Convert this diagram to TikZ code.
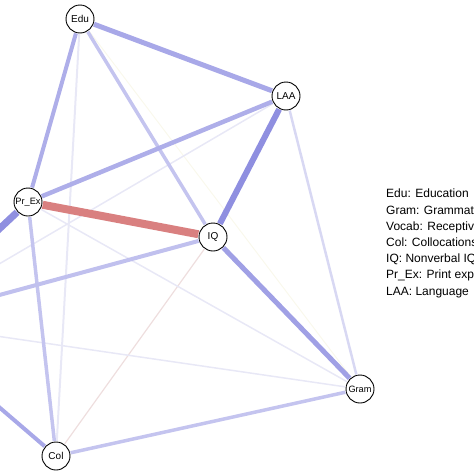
\documentclass[tikz,border=0pt]{standalone}
\usepackage{fontspec}
\setmainfont{Liberation Sans}
\definecolor{PosStrong}{RGB}{143,143,224}
\definecolor{PosMid}   {RGB}{168,168,232}
\definecolor{PosLight} {RGB}{196,196,239}
\definecolor{PosPale}  {RGB}{216,216,243}
\definecolor{PosFaint} {RGB}{232,232,246}
\definecolor{NegStrong}{RGB}{217,128,128}
\definecolor{NegFaint} {RGB}{238,222,222}
\definecolor{TinyEdge} {RGB}{249,248,236}
\usetikzlibrary{positioning}

\begin{document}
\begin{tikzpicture}[x=1pt,y=-1pt,
  var/.style={circle,draw=black,line width=0.9pt,fill=white,
              minimum size=28pt,inner sep=0pt,font=\fontsize{10}{10}\selectfont},
  small/.style={font=\fontsize{9.2}{9.2}\selectfont},
  edge/.style={shorten <=0.5pt,shorten >=0.5pt}]
  \useasboundingbox (0,0) rectangle (474,474);
  \clip (0,0) rectangle (474,474);
  % variables
  \node[var](Edu)  at (80,19)   {Edu};
  \node[var](LAA)  at (286,96)  {LAA};
  \node[var,small](PrEx) at (28,202)  {Pr\_Ex};
  \node[var](IQ)   at (213,237) {IQ};
  \node[var,small](Gram) at (360,389) {Gram};
  \node[var](Col)  at (56,456)  {Col};
  \node[var,small](Vocab) at (-100,322) {Vocab};
  % weak edges
  \draw[edge,TinyEdge,line width=1pt](Edu)--(Gram);
  \draw[edge,NegFaint,line width=1.2pt](IQ)--(Col);
  \draw[edge,PosFaint,line width=1.5pt](LAA)--(Vocab);
  \draw[edge,PosFaint,line width=1.5pt](PrEx)--(Gram);
  \draw[edge,PosFaint,line width=1.5pt](Gram)--(Vocab);
  \draw[edge,PosFaint,line width=2pt](Edu)--(Col);
  \draw[edge,PosPale,line width=2.5pt](LAA)--(Gram);
  % medium edges
  \draw[edge,PosLight,line width=3.5pt](Col)--(Gram);
  \draw[edge,PosLight,line width=3.5pt](PrEx)--(Col);
  \draw[edge,PosLight,line width=3.5pt](Edu)--(IQ);
  \draw[edge,PosLight!85!PosMid,line width=4pt](IQ)--(Vocab);
  \draw[edge,PosMid,line width=4pt](Col)--(Vocab);
  \draw[edge,PosMid!80!PosLight,line width=4.5pt](PrEx)--(LAA);
  \draw[edge,PosMid!80!PosLight,line width=4pt](Edu)--(PrEx);
  \draw[edge,PosMid,line width=5pt](Edu)--(LAA);
  % strong edges
  \draw[edge,PosMid!70!PosStrong,line width=5pt](IQ)--(Gram);
  \draw[edge,PosStrong,line width=6pt](LAA)--(IQ);
  \draw[edge,PosStrong,line width=7pt](PrEx)--(Vocab);
  \draw[edge,NegStrong,line width=8pt](PrEx)--(IQ);
  % legend (runs past the right edge, as in the figure)
  \node[anchor=north west,align=left,inner sep=0pt,
        font=\fontsize{12}{16.2}\selectfont](legend) at (386,189)
       {Edu: Education\\Gram: Grammatical\\
        Vocab: Receptive\\Col: Collocations\\
        IQ: Nonverbal IQ\\Pr\_Ex: Print exposure\\
        LAA: Language};
\end{tikzpicture}
\end{document}
